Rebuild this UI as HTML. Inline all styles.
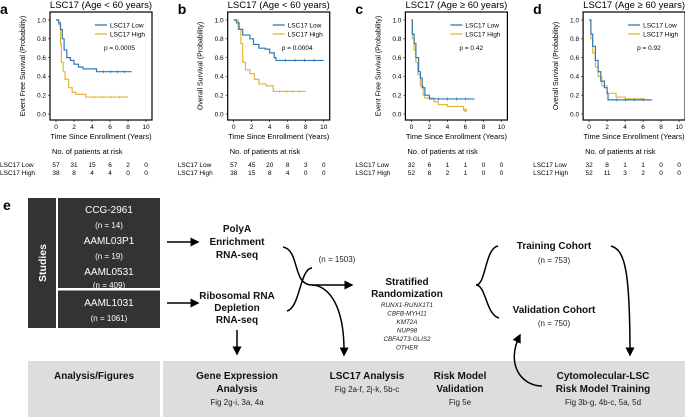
<!DOCTYPE html>
<html><head><meta charset="utf-8"><style>
body{margin:0;background:#fff;font-family:"Liberation Sans",Arial,sans-serif}
#root{position:relative;width:685px;height:417px;overflow:hidden}
svg{position:absolute;left:0;top:0}
</style></head><body>
<div id="root">
<svg id="s" width="685" height="417" viewBox="0 0 685 417" font-family="Liberation Sans, Arial, sans-serif">
<defs><marker id="ah" markerWidth="6" markerHeight="6" refX="5" refY="3" orient="auto"><path d="M0,0 L6,3 L0,6 z" fill="#000"/></marker></defs>
<g id="charts"></g>
<g id="flow">
<text x="3" y="210" font-size="14" font-weight="bold">e</text>
<rect x="28" y="198" width="132" height="130" fill="#333"/>
<rect x="56" y="198" width="2" height="130" fill="#fff"/>
<rect x="58" y="288" width="102" height="2.5" fill="#fff"/>
<text transform="translate(46,263) rotate(-90)" text-anchor="middle" fill="#fff" font-size="10.5" font-weight="bold">Studies</text>
<g fill="#fff" font-size="10" text-anchor="middle">
<text x="109" y="213">CCG-2961</text><text x="109" y="228" font-size="8">(n = 14)</text>
<text x="109" y="244">AAML03P1</text><text x="109" y="259" font-size="8">(n = 19)</text>
<text x="109" y="275">AAML0531</text><text x="109" y="288" font-size="8">(n = 409)</text>
<text x="109" y="306">AAML1031</text><text x="109" y="321" font-size="8">(n = 1061)</text>
</g>
<rect x="28" y="361" width="132" height="56" fill="#ddd"/>
<rect x="163" y="361" width="522" height="56" fill="#ddd"/>
<g font-size="10" font-weight="bold" text-anchor="middle" fill="#111">
<text x="94" y="379">Analysis/Figures</text>
<text x="237" y="232">PolyA</text><text x="237" y="245">Enrichment</text><text x="237" y="258">RNA-seq</text>
<text x="237" y="299">Ribosomal RNA</text><text x="237" y="311">Depletion</text><text x="237" y="323">RNA-seq</text>
<text x="407" y="285">Stratified</text><text x="407" y="297">Randomization</text>
<text x="554" y="249">Training Cohort</text><text x="554" y="313">Validation Cohort</text>
<text x="237" y="379">Gene Expression</text><text x="237" y="392">Analysis</text>
<text x="367" y="379">LSC17 Analysis</text>
<text x="460" y="379">Risk Model</text><text x="460" y="392">Validation</text>
<text x="603" y="379">Cytomolecular-LSC</text><text x="603" y="392">Risk Model Training</text>
</g>
<g font-size="8" text-anchor="middle" fill="#222">
<text x="337" y="262">(n = 1503)</text><text x="554" y="263">(n = 753)</text><text x="554" y="326">(n = 750)</text>
<text x="237" y="405">Fig 2g-i, 3a, 4a</text><text x="367" y="392">Fig 2a-f, 2j-k, 5b-c</text>
<text x="460" y="405">Fig 5e</text><text x="603" y="405">Fig 3b-g, 4b-c, 5a, 5d</text>
</g>
<g font-size="6.3" font-style="italic" text-anchor="middle" fill="#222">
<text x="407" y="307">RUNX1-RUNX1T1</text><text x="407" y="315.5">CBFB-MYH11</text><text x="407" y="324">KMT2A</text>
<text x="407" y="332.5">NUP98</text><text x="407" y="341">CBFA2T3-GLIS2</text><text x="407" y="349.5">OTHER</text>
</g>
<g stroke="#000" stroke-width="1.5" fill="none">
<line x1="167" y1="242" x2="198" y2="242" marker-end="url(#ah)"/>
<line x1="167" y1="303" x2="198" y2="303" marker-end="url(#ah)"/>
<line x1="237" y1="330" x2="237" y2="354" marker-end="url(#ah)"/>
<path d="M283,247 C300,250 292,285 312,285 L352,285" marker-end="url(#ah)"/>
<path d="M287,311 C300,308 300,268 312,268"/>
<path d="M312,285 C325,285 345,300 344,355" marker-end="url(#ah)"/>
<path d="M498,246 C485,248 486,285 476,285 C486,285 486,315 499,318"/>
<path d="M611,246 C625,250 630,270 630,355" marker-end="url(#ah)"/>
<path d="M542,386 C522,386 505,365 520,335" marker-end="url(#ah)"/>
</g>
</g>
</svg>
</div>
<script>
// KM data (time in years, survival probability)
const panelTitles=["LSC17 (Age < 60 years)","LSC17 (Age < 60 years)","LSC17 (Age \u2265 60 years)","LSC17 (Age \u2265 60 years)"];
const panelLetters=["a","b","c","d"];
const yTitles=["Event Free Survival (Probability)","Overall Survival (Probability)","Event Free Survival (Probability)","Overall Survival (Probability)"];
const pValues=["p = 0.0005","p = 0.0004","p = 0.42","p = 0.92"];
const lowT=[[0,0.3,0.5,0.7,0.9,1.2,1.6,2,2.5,3,4.5,8.4],[0,0.3,0.6,1,1.8,2.2,2.8,3.5,4,4.5,4.7,10],[0,0.1,0.3,0.5,0.8,1,1.2,1.5,2,7],[0,0.2,0.4,0.7,1,1.3,1.7,2,2.1,7]];
const lowS=[[1,0.97,0.9,0.8,0.68,0.6,0.57,0.53,0.5,0.48,0.45,0.45],[1,0.97,0.9,0.84,0.8,0.74,0.7,0.69,0.65,0.6,0.57,0.57],[1,0.85,0.75,0.6,0.45,0.38,0.28,0.2,0.16,0.16],[1,0.85,0.72,0.57,0.45,0.35,0.28,0.22,0.15,0.15]];
const highT=[[0,0.3,0.5,0.6,0.8,1,1.4,1.8,2.2,3.3,8],[0,0.5,0.8,1,1.3,1.8,2.3,2.8,3.6,4.4,8],[0,0.1,0.3,0.5,0.7,1,1.3,1.5,2.5,3,4,5.8,6.2],[0,0.2,0.4,0.7,1,1.4,2,3,4,6.2]];
const highS=[[1,0.95,0.75,0.55,0.45,0.37,0.28,0.23,0.21,0.18,0.18],[1,0.9,0.75,0.55,0.47,0.43,0.37,0.32,0.3,0.24,0.24],[1,0.8,0.68,0.55,0.42,0.3,0.2,0.17,0.13,0.1,0.08,0.04,0.04],[1,0.8,0.65,0.5,0.4,0.3,0.22,0.18,0.16,0.16]];
const riskLow=[[57,31,15,6,2,0],[57,45,20,8,3,0],[32,6,1,1,0,0],[32,8,1,1,0,0]];
const riskHigh=[[38,8,4,4,0,0],[38,15,8,4,0,0],[52,8,2,1,0,0],[52,11,3,2,0,0]];
const xTicks=[0,2,4,6,8,10];
const yTicks=[0,0.2,0.4,0.6,0.8,1.0];
const BLUE="#2f78b8",YEL="#e6b43a";
const NS="http://www.w3.org/2000/svg";
const G=document.getElementById("charts");
function el(tag,attrs,parent,txt){const e=document.createElementNS(NS,tag);for(const k in attrs)e.setAttribute(k,attrs[k]);if(txt!==undefined)e.textContent=txt;(parent||G).appendChild(e);return e;}
for(let p=0;p<4;p++){
  const off=p*177.7;
  const g=el("g",{});
  
  
  const X=t=>off+56+t*9, Y=s=>114-s*94;
  el("text",{x:off+0,y:14,"font-size":14,"font-weight":"bold"},g,panelLetters[p]);
  el("text",{x:off+101,y:8,"font-size":9.5,"text-anchor":"middle"},g,panelTitles[p]);
  el("rect",{x:off+50,y:12,width:102,height:108,fill:"none",stroke:"#000","stroke-width":1.2},g);
  for(const t of xTicks){el("line",{x1:X(t),x2:X(t),y1:120,y2:122,stroke:"#000","stroke-width":0.6},g);el("text",{x:X(t),y:129,"font-size":6.5,"text-anchor":"middle"},g,t);}
  for(const v of yTicks){el("line",{x1:off+48,x2:off+50,y1:Y(v),y2:Y(v),stroke:"#000","stroke-width":0.6},g);el("text",{x:off+46,y:Y(v)+2.3,"font-size":6.5,"text-anchor":"end"},g,v.toFixed(1));}
  el("text",{transform:`translate(${off+25},66) rotate(-90)`,"font-size":7,"text-anchor":"middle"},g,yTitles[p]);
  el("text",{x:off+101,y:139,"font-size":7.5,"text-anchor":"middle"},g,"Time Since Enrollment (Years)");
  function curve(T,S,c,nm){let d=`M${X(T[0])},${Y(S[0])}`;for(let i=1;i<T.length;i++){d+=` H${X(T[i])} V${Y(S[i])}`;}
    const pth=el("path",{d:d,fill:"none",stroke:c,"stroke-width":1.2},g);
    
    
    const last=T.length-1;for(let k=1;k<=4;k++){const tt=T[last]-(T[last]-T[Math.max(last-1,0)])*k/5;const sv=S[last];el("line",{x1:X(tt),x2:X(tt),y1:Y(sv)-1.5,y2:Y(sv)+1.5,stroke:c,"stroke-width":0.7},g);}}
  curve(highT[p],highS[p],YEL,"lsc17-high-curve");
  curve(lowT[p],lowS[p],BLUE,"lsc17-low-curve");
  const lg=el("g",{},g);
  
  
  el("line",{x1:off+95,x2:off+107,y1:25,y2:25,stroke:BLUE,"stroke-width":1.3},lg);
  el("line",{x1:off+95,x2:off+107,y1:34,y2:34,stroke:YEL,"stroke-width":1.3},lg);
  el("text",{x:off+110,y:27.5,"font-size":6.5},lg,"LSC17 Low");
  el("text",{x:off+110,y:36.5,"font-size":6.5},lg,"LSC17 High");
  el("text",{x:off+104,y:50,"font-size":6.5},g,pValues[p]);
  el("text",{x:off+52,y:154,"font-size":7.5},g,"No. of patients at risk");
  el("text",{x:off+0,y:167,"font-size":6.5},g,"LSC17 Low");
  el("text",{x:off+0,y:175,"font-size":6.5},g,"LSC17 High");
  for(let i=0;i<6;i++){el("text",{x:X(xTicks[i]),y:167,"font-size":6.5,"text-anchor":"middle"},g,riskLow[p][i]);el("text",{x:X(xTicks[i]),y:175,"font-size":6.5,"text-anchor":"middle"},g,riskHigh[p][i]);}
}
</script>
</body></html>
